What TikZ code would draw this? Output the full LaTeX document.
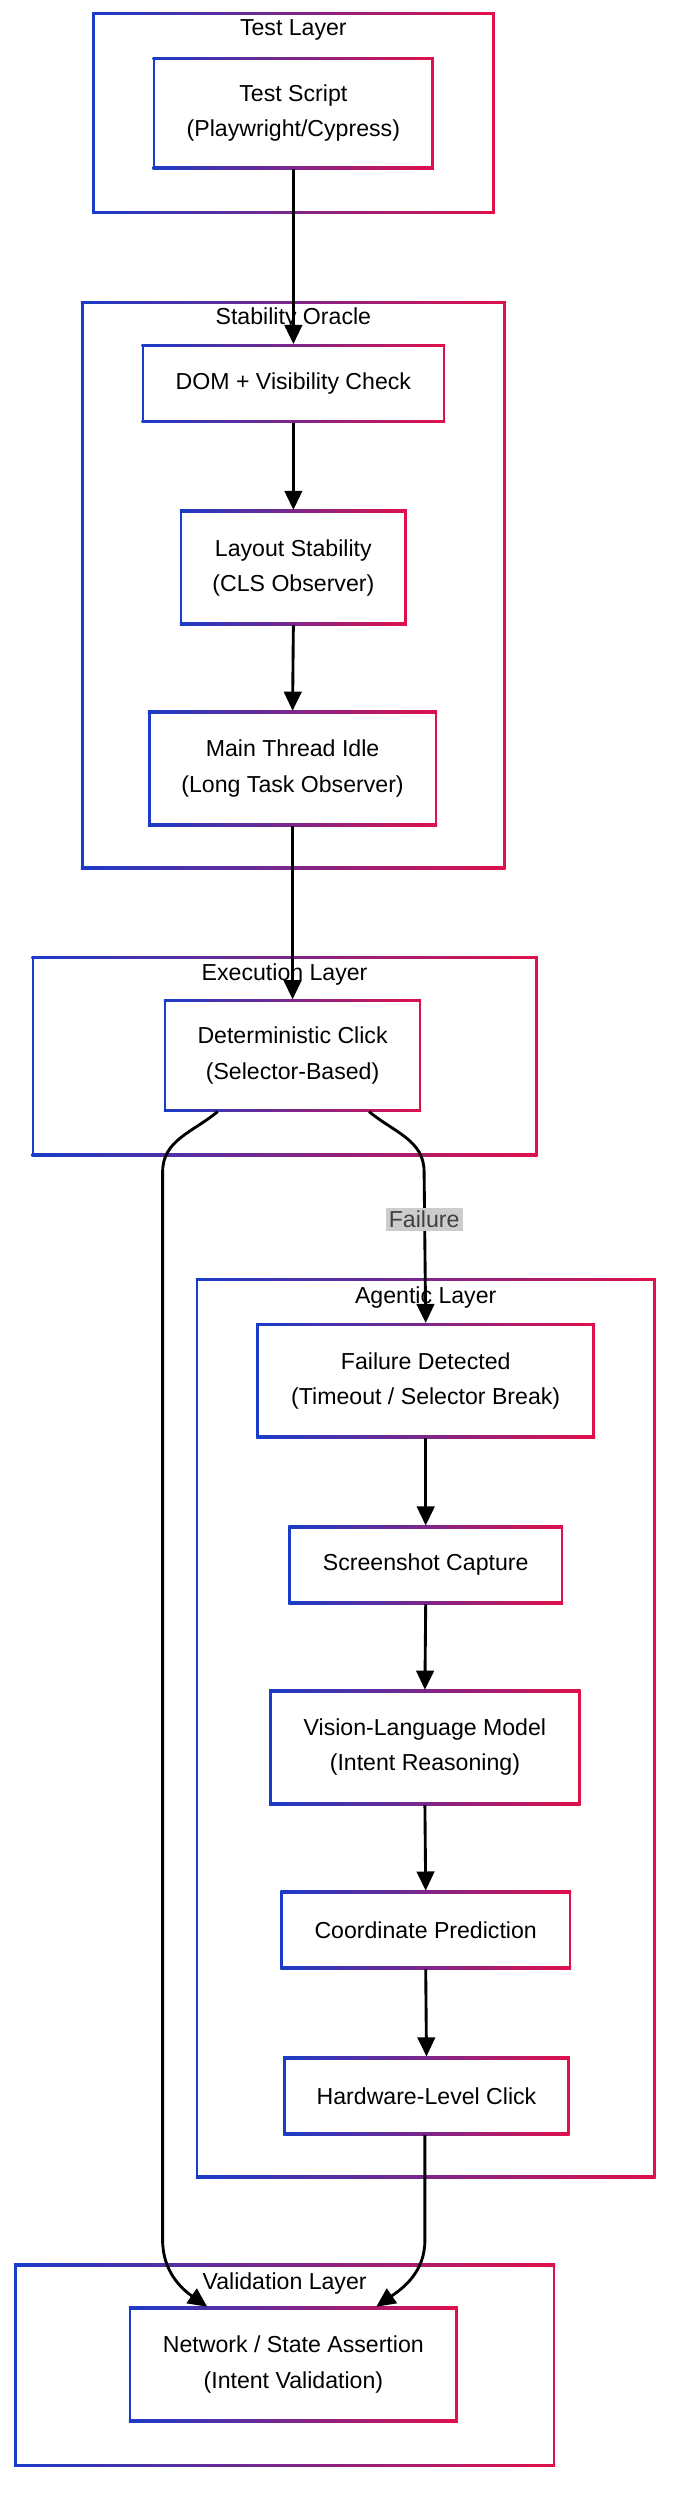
\documentclass[tikz,border=0pt]{standalone}
\usepackage{fontspec}
\setmainfont{Liberation Sans}
\usetikzlibrary{arrows.meta}
\definecolor{bl}{HTML}{1A3CC8}
\definecolor{rd}{HTML}{E0104A}
\newcommand{\gborder}[1]{%
  \shade[left color=bl,right color=rd] (#1.north west) rectangle ([yshift=-1.6pt]#1.north east);
  \shade[left color=bl,right color=rd] (#1.south west) rectangle ([yshift=1.6pt]#1.south east);
  \fill[bl] (#1.south west) rectangle ([xshift=1.6pt]#1.north west);
  \fill[rd] ([xshift=-1.6pt]#1.south east) rectangle (#1.north east);}
\begin{document}
\begin{tikzpicture}[x=1pt,y=-1pt,
  box/.style={inner sep=0pt,align=center,font=\fontsize{14.5}{22}\selectfont,fill=white},
  ttl/.style={inner sep=1pt,font=\fontsize{14.5}{16}\selectfont},
  arr/.style={line width=1.8pt,-{Triangle[length=12pt,width=11pt]}},
  lbl/.style={fill=black!20,inner sep=2pt,font=\fontsize{14.5}{16}\selectfont,text=black!75}]
\useasboundingbox[fill=white] (0,0) rectangle (423,1568);
% containers
\node[box,minimum width=252pt,minimum height=126pt] (cTest) at (184,71) {};
\node[box,minimum width=266pt,minimum height=356pt] (cStab) at (184,367) {};
\node[box,minimum width=317pt,minimum height=125pt] (cExec) at (178.5,662.5) {};
\node[box,minimum width=288pt,minimum height=564pt] (cAgent) at (267,1084) {};
\node[box,minimum width=339pt,minimum height=127pt] (cVal) at (178.5,1483.5) {};
\foreach \n in {cTest,cStab,cExec,cAgent,cVal}{\gborder{\n}}
\node[ttl] (tTest) at (184,19) {Test Layer};
\node[ttl] (tStab) at (184,200) {Stability Oracle};
\node[ttl] (tExec) at (178.5,611) {Execution Layer};
\node[ttl] (tAgent) at (267,814) {Agentic Layer};
\node[ttl] (tVal) at (178.5,1432) {Validation Layer};
% boxes
\node[box,minimum width=176pt,minimum height=70pt] (ts) at (184,71) {Test Script\\(Playwright/Cypress)};
\node[box,minimum width=190pt,minimum height=49pt] (dom) at (184,240.5) {DOM + Visibility Check};
\node[box,minimum width=142pt,minimum height=72pt] (lay) at (184,356) {Layout Stability\\(CLS Observer)};
\node[box,minimum width=181pt,minimum height=72pt] (mt) at (183.5,482) {Main Thread Idle\\(Long Task Observer)};
\node[box,minimum width=161pt,minimum height=70pt] (det) at (183.5,662) {Deterministic Click\\(Selector-Based)};
\node[box,minimum width=212pt,minimum height=72pt] (fd) at (267,866) {Failure Detected\\(Timeout / Selector Break)};
\node[box,minimum width=172pt,minimum height=49pt] (sc) at (267,981.5) {Screenshot Capture};
\node[box,minimum width=195pt,minimum height=72pt] (vlm) at (266.5,1096) {Vision-Language Model\\(Intent Reasoning)};
\node[box,minimum width=182pt,minimum height=49pt] (cp) at (267,1210.5) {Coordinate Prediction};
\node[box,minimum width=179pt,minimum height=49pt] (hw) at (267.5,1314.5) {Hardware-Level Click};
\node[box,minimum width=206pt,minimum height=72pt] (net) at (184,1483) {Network / State Assertion\\(Intent Validation)};
\foreach \n in {ts,dom,lay,mt,det,fd,sc,vlm,cp,hw,net}{\gborder{\n}}
% edges
\draw[arr] (ts.south) -- (dom.north);
\draw[arr] (dom.south) -- (lay.north);
\draw[arr] (lay.south) -- (mt.north);
\draw[arr] (mt.south) -- (det.north);
\draw[arr] ([xshift=48pt]det.south) to[out=-40,in=90] (266,735) -- (fd.north);
\node[lbl] (flbl) at (266,765) {Failure};
\draw[arr] (fd.south) -- (sc.north);
\draw[arr] (sc.south) -- (vlm.north);
\draw[arr] (vlm.south) -- (cp.north);
\draw[arr] (cp.south) -- (hw.north);
\draw[arr] ([xshift=-47pt]det.south) to[out=-140,in=90] (102,735) -- (102,1405) to[out=-90,in=145] ([xshift=-54pt]net.north);
\draw[arr] ([xshift=-1pt]hw.south) -- (266.5,1405) to[out=-90,in=35] ([xshift=52pt]net.north);
\end{tikzpicture}
\end{document}
